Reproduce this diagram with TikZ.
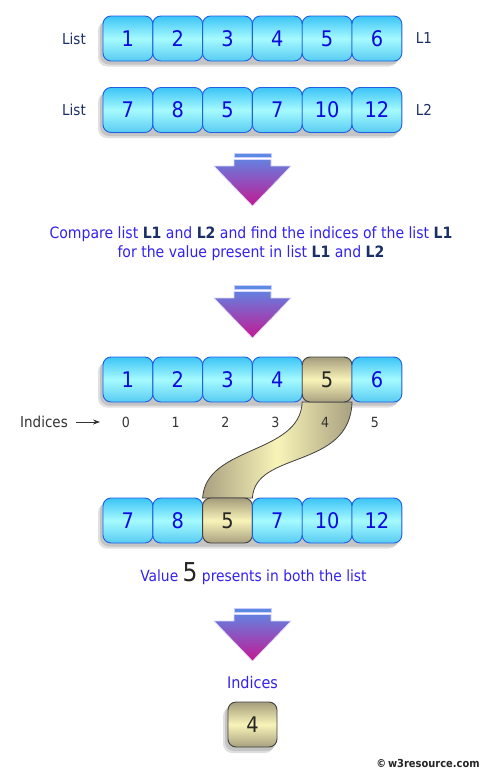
\documentclass[tikz,border=0pt]{standalone}
\usepackage{fontspec}
\setmainfont{DejaVu Sans Condensed}
\usetikzlibrary{arrows.meta}
\definecolor{cyanT}{HTML}{3CC4F6}
\definecolor{cyanM}{HTML}{A6FAFF}
\definecolor{cyanB}{HTML}{58CCF2}
\definecolor{boxline}{HTML}{1E5FE6}
\definecolor{numblue}{HTML}{0A0AE0}
\definecolor{khT}{HTML}{A49C7C}
\definecolor{khM}{HTML}{F8F4B8}
\definecolor{khB}{HTML}{A8A080}
\definecolor{khline}{HTML}{404040}
\definecolor{navy}{HTML}{1A2F66}
\definecolor{desc}{HTML}{3322EE}
\definecolor{grayt}{HTML}{333333}
\definecolor{arrT}{HTML}{6580E0}
\definecolor{arrB}{HTML}{C41892}
\definecolor{arrBar}{HTML}{5B8AE2}
\tikzset{
  x=1pt, y=-1pt,
  cell/.style={rectangle, rounded corners=8pt, minimum width=49.8pt, minimum height=45pt,
    inner sep=0pt, draw=boxline, line width=0.9pt,
    top color=cyanT, bottom color=cyanB, middle color=cyanM,
    text=numblue, font=\fontsize{21.5}{21.5}\selectfont},
  hcell/.style={cell, draw=khline, top color=khT, bottom color=khB, middle color=khM, text=black!85},
  shadowrow/.style={fill=black, opacity=0.12, rounded corners=9pt},
  lbl/.style={text=navy, font=\fontsize{15}{15}\selectfont},
  idx/.style={text=grayt, font=\fontsize{14}{14}\selectfont},
  bigarrow/.pic={
    \fill[arrBar] (-18.5,0) rectangle (18.5,4.5);
    \draw[white!80!blue, line width=0.5pt] (-18.5,0) rectangle (18.5,4.5);
    \shade[top color=arrT, bottom color=arrB, draw=white!85!blue, line width=0.6pt]
      (-18.5,6.5) -- (18.5,6.5) -- (18.5,13) -- (38.5,13) -- (0,53) -- (-38.5,13) -- (-18.5,13) -- cycle;
  }
}
\begin{document}
\begin{tikzpicture}
\useasboundingbox (0,0) rectangle (486,779);
\fill[white] (0,0) rectangle (486,779);

% shadows of rows
\foreach \cy in {38.5,110,379.5,520.5}{
  \fill[shadowrow] (100,\cy-19) rectangle (400,\cy+26);
  \fill[shadowrow] (98,\cy-17) rectangle (398,\cy+28);
}
\fill[shadowrow] (225,705) rectangle (276,751);
\fill[shadowrow] (223,707) rectangle (274,753);

% row 1
\node[lbl] (list1) at (74,38.5) {List};
\foreach \v [count=\i] in {1,2,3,4,5,6}
  \node[cell] (a\i) at (78.1+49.8*\i,38.5) {\v};
\node[lbl] (l1) at (424,38.5) {L1};

% row 2
\node[lbl] (list2) at (74,110) {List};
\foreach \v [count=\i] in {7,8,5,7,10,12}
  \node[cell] (b\i) at (78.1+49.8*\i,110) {\v};
\node[lbl] (l2) at (424,110) {L2};

\pic at (252.5,153) {bigarrow};

\node[text=desc, font=\fontsize{15.6}{19}\selectfont, align=center] (desc1) at (251,243.5)
  {Compare list \textcolor{navy}{\bfseries L1} and \textcolor{navy}{\bfseries L2} and find the indices of the list \textcolor{navy}{\bfseries L1}\\
   for the value present in list \textcolor{navy}{\bfseries L1} and \textcolor{navy}{\bfseries L2}};

\pic at (252.5,285) {bigarrow};

% band between matched cells (drawn before the cells)
\coordinate (c3sw) at (302.2,402);
\coordinate (c3se) at (352,402);
\coordinate (d3nw) at (202.6,498);
\coordinate (d3ne) at (252.4,498);
\shade[left color=khB, right color=khB, middle color=khM, draw=khline, line width=0.8pt]
  (c3sw) .. controls (300,455) and (206,445) .. (d3nw)
  -- (d3ne) .. controls (255,450) and (350,470) .. (c3se) -- cycle;

% row 3
\foreach \v [count=\i] in {1,2,3,4,5,6}{
  \ifnum\i=5
    \node[hcell] (c\i) at (78.1+49.8*\i,379.5) {\v};
  \else
    \node[cell] (c\i) at (78.1+49.8*\i,379.5) {\v};
  \fi
}
\node[idx, font=\fontsize{15}{15}\selectfont] (idxl) at (44,422) {Indices};
\coordinate (idxarr) at (100,422);
\draw[grayt, line width=0.8pt, -{Stealth[length=7pt,width=5pt]}] (76,422) -- (idxarr);
\foreach \v [count=\i] in {0,1,2,3,4,5}
  \node[idx] (i\i) at (76.1+49.8*\i,422) {\v};

% row 4
\foreach \v [count=\i] in {7,8,5,7,10,12}{
  \ifnum\i=3
    \node[hcell] (d\i) at (78.1+49.8*\i,520.5) {\v};
  \else
    \node[cell] (d\i) at (78.1+49.8*\i,520.5) {\v};
  \fi
}

\node[text=desc, font=\fontsize{15.4}{15.4}\selectfont] (val) at (253.5,574)
  {Value \textcolor{black!85}{\fontsize{26}{26}\selectfont 5} presents in both the list};

\pic at (252.5,608) {bigarrow};

\node[text=desc, font=\fontsize{16}{16}\selectfont] (ind) at (252.5,683) {Indices};
\node[hcell, minimum width=49pt] (res) at (252.5,724.5) {4};

\node[text=black!85, font=\fontsize{11}{11}\selectfont\bfseries] (wm) at (428,763) {\textcopyright\,w3resource.com};
\end{tikzpicture}
\end{document}
